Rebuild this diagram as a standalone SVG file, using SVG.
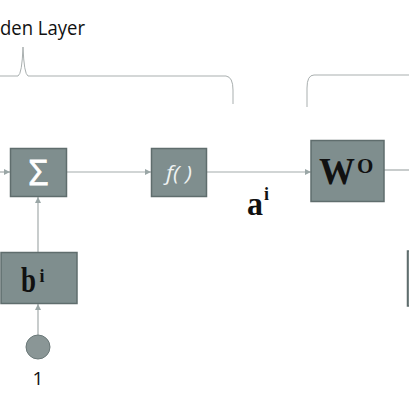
<svg xmlns="http://www.w3.org/2000/svg" width="409" height="409" viewBox="0 0 409 409">
<style>
.box{fill:#7f8e8e;stroke:#5f6d6d;stroke-width:1.5}
.ln{fill:none;stroke:#a3abab;stroke-width:1.2}
.br{fill:none;stroke:#a9afaf;stroke-width:1}
.sym{font-family:"Liberation Serif","Times New Roman",serif;font-weight:bold;fill:#111}
</style>
<defs>
<marker id="ah" viewBox="0 0 10 10" refX="10" refY="5" markerWidth="6" markerHeight="6" markerUnits="userSpaceOnUse" orient="auto">
<path d="M0,0 L10,5 L0,10 Z" fill="#9aa6a6"/>
</marker>
</defs>
<rect width="409" height="409" fill="#fff"/>
<text x="0" y="35" font-family="'Open Sans','Liberation Sans',sans-serif" font-size="20" fill="#111" textLength="85" lengthAdjust="spacingAndGlyphs">den Layer</text>
<g id="braces">
<path class="br" d="M0,76 L18,76 Q22,74 23,47 Q24,74 28,76 L226,76 Q233,77 233,90 L233,104"/>
<path class="br" d="M307,107 L307,88 Q307,75 314,75 L409,75"/>
</g>
<g id="connectors">
<line class="ln" x1="0" y1="172" x2="10" y2="172" marker-end="url(#ah)"/>
<line class="ln" x1="66" y1="172" x2="151" y2="172" marker-end="url(#ah)"/>
<line class="ln" x1="207" y1="172" x2="311" y2="172" marker-end="url(#ah)"/>
<line class="ln" x1="384" y1="170" x2="409" y2="170"/>
<line class="ln" x1="38" y1="252" x2="38" y2="197" marker-end="url(#ah)"/>
<line class="ln" x1="38" y1="335" x2="38" y2="304" marker-end="url(#ah)"/>
</g>
<g id="sum">
<rect class="box" x="10.5" y="148.5" width="56" height="48"/>
<text x="38.5" y="185" text-anchor="middle" font-family="'Open Sans','Liberation Sans',sans-serif" font-size="34" fill="#fff" stroke="#fff" stroke-width="0.8">Σ</text>
</g>
<g id="f">
<rect class="box" x="151.5" y="148.5" width="55" height="48"/>
<text x="166" y="180" font-family="'Open Sans','Liberation Sans',sans-serif" font-style="italic" font-size="20" fill="#eef2f2" textLength="26" lengthAdjust="spacingAndGlyphs">f( )</text>
</g>
<g id="W">
<rect class="box" x="311" y="140.5" width="73" height="61"/>
<text class="sym" x="319" y="184" font-size="38" textLength="36" lengthAdjust="spacingAndGlyphs">W</text>
<text class="sym" x="357" y="173" font-size="21" font-weight="normal">O</text>
</g>
<g id="a">
<text class="sym" x="247" y="215" font-size="33" textLength="16" lengthAdjust="spacingAndGlyphs">a</text>
<text class="sym" x="264" y="200" font-size="18">i</text>
</g>
<g id="b">
<rect class="box" x="1" y="252.5" width="76" height="51"/>
<text class="sym" x="21" y="292" font-size="36" textLength="15" lengthAdjust="spacingAndGlyphs">b</text>
<text class="sym" x="39.5" y="282" font-size="18">i</text>
</g>
<g id="one">
<circle cx="38" cy="347" r="12" fill="#8a9696" stroke="#6a7878" stroke-width="1"/>
<text x="38" y="385" text-anchor="middle" font-family="'Open Sans','Liberation Sans',sans-serif" font-size="19" fill="#111">1</text>
</g>
<g id="right">
<rect class="box" x="407.5" y="251" width="10" height="55"/>
</g>
</svg>
